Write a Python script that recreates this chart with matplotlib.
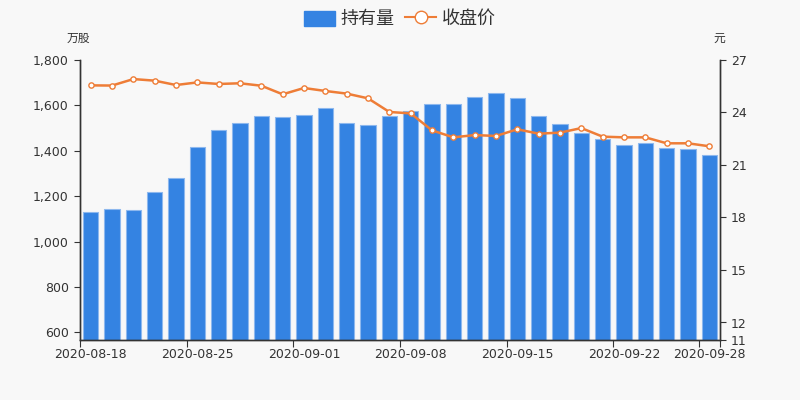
import matplotlib
matplotlib.use("Agg")
import matplotlib.pyplot as plt
from matplotlib.lines import Line2D
from matplotlib.patches import Patch
from matplotlib.ticker import FuncFormatter, FixedLocator

plt.rcParams["font.family"] = ["Noto Sans CJK SC", "DejaVu Sans"]

dates = [
    "2020-08-18", "2020-08-19", "2020-08-20", "2020-08-21", "2020-08-24",
    "2020-08-25", "2020-08-26", "2020-08-27", "2020-08-28", "2020-08-31",
    "2020-09-01", "2020-09-02", "2020-09-03", "2020-09-04", "2020-09-07",
    "2020-09-08", "2020-09-09", "2020-09-10", "2020-09-11", "2020-09-14",
    "2020-09-15", "2020-09-16", "2020-09-17", "2020-09-18", "2020-09-21",
    "2020-09-22", "2020-09-23", "2020-09-24", "2020-09-25", "2020-09-28",
]
holdings = [
    1130, 1143, 1139, 1220, 1281, 1417, 1490, 1524, 1552, 1547,
    1556, 1587, 1522, 1514, 1552, 1574, 1606, 1605, 1636, 1656,
    1631, 1553, 1518, 1477, 1453, 1427, 1436, 1414, 1408, 1380,
]
close_price = [
    25.55, 25.54, 25.91, 25.82, 25.57, 25.72, 25.63, 25.67, 25.53, 25.04,
    25.40, 25.23, 25.08, 24.81, 24.03, 23.95, 22.98, 22.58, 22.71, 22.66,
    23.04, 22.79, 22.85, 23.11, 22.62, 22.58, 22.58, 22.24, 22.24, 22.07,
]
label_idx = [0, 5, 10, 15, 20, 25, 29]

bar_color = "#3483E2"
line_color = "#EE7D37"
text_color = "#333333"
bg = "#F8F8F8"

fig = plt.figure(figsize=(8, 4), dpi=100, facecolor=bg)
ax = fig.add_axes([0.1, 0.15, 0.8, 0.7], facecolor=bg)
ax2 = ax.twinx()

x = list(range(len(dates)))
ax.bar(x, holdings, width=0.72, color=bar_color, edgecolor="#8DB8EE",
       linewidth=0.8, zorder=2)
ax2.plot(x, close_price, color=line_color, linewidth=1.8, marker="o",
         markersize=3.8, markerfacecolor="white", markeredgecolor=line_color,
         markeredgewidth=1.0, zorder=3)

ax.set_xlim(-0.5, len(dates) - 0.5)
ax.set_ylim(566, 1800)
ax2.set_ylim(11, 27)

ax.set_yticks([600, 800, 1000, 1200, 1400, 1600, 1800])
ax.yaxis.set_major_formatter(FuncFormatter(lambda v, p: f"{int(v):,}"))
ax2.set_yticks([11, 12, 15, 18, 21, 24, 27])

# tick marks at category boundaries, labels at category centres
bounds = [i - 0.5 for i in label_idx] + [len(dates) - 0.5]
ax.xaxis.set_major_locator(FixedLocator(bounds))
ax.xaxis.set_major_formatter(FuncFormatter(lambda v, p: ""))
ax.xaxis.set_minor_locator(FixedLocator(label_idx))
ax.set_xticklabels([dates[i] for i in label_idx], minor=True)
ax.tick_params(axis="x", which="minor", length=0, pad=6,
               labelsize=9, labelcolor=text_color)
ax.tick_params(axis="x", which="major", length=5, color=text_color)

ax.tick_params(axis="y", length=4, labelsize=9, labelcolor=text_color,
               color=text_color, pad=4)
ax2.tick_params(axis="y", length=4, labelsize=9, labelcolor=text_color,
                color=text_color, pad=4)

for lbl in (ax.get_xticklabels(minor=True) + ax.get_yticklabels()
            + ax2.get_yticklabels()):
    lbl.set_family("DejaVu Sans")

for a in (ax, ax2):
    a.spines["top"].set_visible(False)
    for s in ("left", "right", "bottom"):
        a.spines[s].set_color(text_color)
        a.spines[s].set_linewidth(1.0)

fig.text(0.0985, 0.905, "万股", fontsize=8.5, color=text_color,
         ha="center", va="center")
fig.text(0.899, 0.905, "元", fontsize=8.5, color=text_color,
         ha="center", va="center")

handles = [
    Patch(facecolor=bar_color, edgecolor=bar_color, label="持有量"),
    Line2D([0], [0], color=line_color, linewidth=1.5, marker="o",
           markersize=9, markerfacecolor="white", markeredgecolor=line_color,
           label="收盘价"),
]
fig.legend(handles=handles, loc="upper center", bbox_to_anchor=(0.5, 1.015),
           ncol=2, frameon=False, fontsize=13, handlelength=1.7,
           handleheight=0.9, handletextpad=0.3, columnspacing=0.6,
           labelcolor=text_color)

plt.savefig("out.png", dpi=100, facecolor=bg)
plt.close()
